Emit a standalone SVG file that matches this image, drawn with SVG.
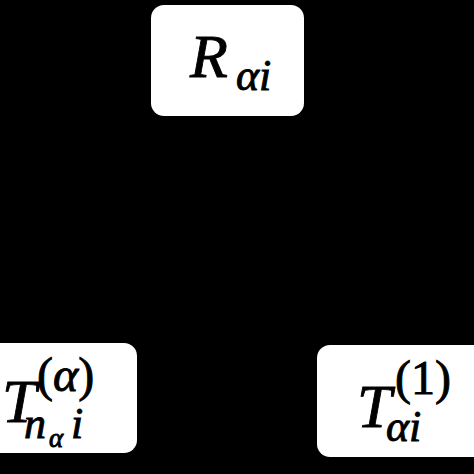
<svg xmlns="http://www.w3.org/2000/svg" width="474" height="474" viewBox="0 0 474 474">
<style>
.box{fill:#ffffff;stroke:none}
.m{font-family:"Liberation Serif","DejaVu Serif",serif;font-style:italic;fill:#000000;stroke:#000000;stroke-width:0.9}
.u{font-style:normal}
.edge{stroke:#000000;stroke-width:2;fill:none}
</style>
<rect x="0" y="0" width="474" height="474" fill="#000000"/>
<g id="connectors">
<line class="edge" x1="200" y1="116" x2="100" y2="343"/>
<line class="edge" x1="228" y1="116" x2="413" y2="345"/>
</g>
<g id="node-R">
<rect class="box" x="151" y="5" width="153" height="111" rx="13"/>
<text class="m"><tspan x="190" y="77" font-size="62">R</tspan><tspan x="236" y="90" font-size="44">αi</tspan></text>
</g>
<g id="node-Tn">
<rect class="box" x="-20" y="343" width="157" height="110" rx="13"/>
<text class="m"><tspan x="2" y="422" font-size="62">T</tspan><tspan x="37" y="391" font-size="48"><tspan class="u">(</tspan>α<tspan class="u">)</tspan></tspan><tspan x="24" y="438" font-size="44">n</tspan><tspan x="49" y="447" font-size="27">α</tspan><tspan x="71" y="438" font-size="44">i</tspan></text>
</g>
<g id="node-T1">
<rect class="box" x="317" y="345" width="180" height="112" rx="13"/>
<text class="m"><tspan x="357" y="427" font-size="62">T</tspan><tspan class="u" x="395" y="394" font-size="48">(1)</tspan><tspan x="386" y="441" font-size="44">αi</tspan></text>
</g>
</svg>
